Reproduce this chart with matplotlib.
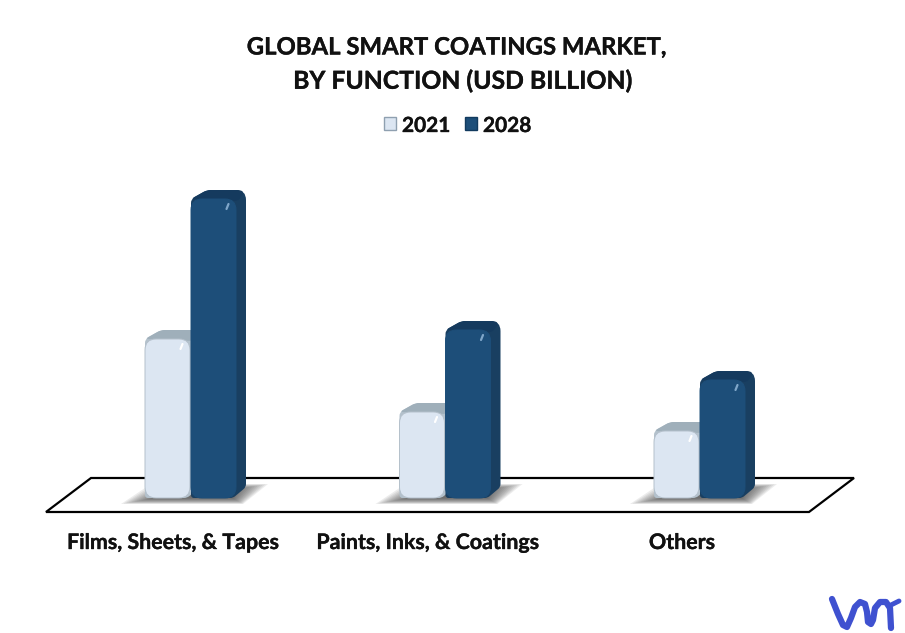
#!/usr/bin/env python3
"""Global smart coatings market by function, drawn as pseudo-3D bars."""

import matplotlib
matplotlib.use('Agg')
import matplotlib.patheffects as pe
import matplotlib.pyplot as plt
from matplotlib.patches import PathPatch, Polygon
from matplotlib.path import Path

plt.rcParams['font.family'] = ['Lato', 'DejaVu Sans']

# bar heights (no axis in the original, so relative units)
categories = ['Films, Sheets, & Tapes', 'Paints, Inks, & Coatings', 'Others']
years = ['2021', '2028']
values_2021 = [1.59, 0.86, 0.67]
values_2028 = [2.99, 1.68, 1.18]
title_lines = ['GLOBAL SMART COATINGS MARKET,', 'BY FUNCTION (USD BILLION)']

# layout, all in pixels of the 905x633 image
W, H = 905, 633
BASE = 498          # pixel row of the value 0
SCALE = 100         # pixels per value unit
GROUP_X = [145, 399.5, 654]
BAR_W = 45
GAP = 1
DEPTH_X = 10
DEPTH_Y = 9

LIGHT = {'front': '#dce6f2', 'top': '#9fafba', 'side': '#b3c1cc', 'edge': '#b4c0cb', 'spot': '#ffffff'}
DARK = {'front': '#1d4e79', 'top': '#153a5e', 'side': '#193f61', 'edge': '#1d4e79', 'spot': '#7fa6c9'}
BOLD = [pe.withStroke(linewidth=0.25, foreground='#111111')]


def py(row):
    """Pixel row to data y."""
    return (BASE - row) / SCALE


def rounded_path(points, radii):
    """Closed path through points with each corner rounded by its radius."""
    verts, codes = [], []
    n = len(points)
    for i in range(n):
        x0, y0 = points[i - 1]
        x1, y1 = points[i]
        x2, y2 = points[(i + 1) % n]
        la = ((x0 - x1) ** 2 + ((y0 - y1) * SCALE) ** 2) ** 0.5
        lb = ((x2 - x1) ** 2 + ((y2 - y1) * SCALE) ** 2) ** 0.5
        r = radii[i]
        ta = min(r / la, 0.5) if la else 0
        tb = min(r / lb, 0.5) if lb else 0
        start = (x1 + (x0 - x1) * ta, y1 + (y0 - y1) * ta)
        end = (x1 + (x2 - x1) * tb, y1 + (y2 - y1) * tb)
        verts.append(start)
        codes.append(Path.MOVETO if i == 0 else Path.LINETO)
        verts += [(x1, y1), end]
        codes += [Path.CURVE3, Path.CURVE3]
    verts.append(verts[0])
    codes.append(Path.CLOSEPOLY)
    return Path(verts, codes)


def draw_bar(ax, x, value, colors, z):
    top = value
    dy = DEPTH_Y / SCALE
    right = x + BAR_W

    # silhouette of side and top faces
    outline = [(x, top), (x + DEPTH_X + 6, top + dy), (right + DEPTH_X, top + dy),
               (right + DEPTH_X, 11 / SCALE), (right - 3, 0), (x, 0)]
    ax.add_patch(PathPatch(rounded_path(outline, [4, 4, 10, 3, 3, 3]),
                           fc=colors['side'], ec='none', zorder=z))
    top_face = [(x, top), (x + DEPTH_X + 6, top + dy), (right + DEPTH_X, top + dy),
                (right + 2, top - 2 / SCALE)]
    ax.add_patch(PathPatch(rounded_path(top_face, [4, 4, 10, 3]),
                           fc=colors['top'], ec='none', zorder=z + 0.1))

    # front face, rounded all round
    front = [(x, top), (right, top), (right, 0), (x, 0)]
    ax.add_patch(PathPatch(rounded_path(front, [11, 11, 11, 11]),
                           fc=colors['front'], ec=colors['edge'], lw=0.7, zorder=z + 0.2))

    # small slanted glint near the top right corner
    ax.plot([right - 9.5, right - 7.5], [top - 10 / SCALE, top - 5 / SCALE], color=colors['spot'],
            lw=1.6, solid_capstyle='round', zorder=z + 0.3)


def draw_shadow(ax, x):
    """Soft grey floor shadow made of stacked translucent shapes."""
    y_low, y_high = py(504), py(484)
    for i in range(14):
        inset = i * 2.6
        trim = i * 0.45 / SCALE
        points = [(x - 24 + inset, y_low + trim), (x + 98 - inset * 0.3, y_low + trim),
                  (x + 123 - inset, y_high - trim), (x + 6 + inset, y_high - trim)]
        ax.add_patch(Polygon(points, fc='#4a4a4a', ec='none', alpha=0.1, zorder=2))


fig = plt.figure(figsize=(W / 100, H / 100), dpi=100)
ax = fig.add_axes([0, 0, 1, 1])
ax.set_xlim(0, W)
ax.set_ylim(py(H), py(0))
ax.axis('off')

# floor
floor = [(46, py(512)), (809, py(512)), (854, py(478)), (91, py(478))]
ax.add_patch(Polygon(floor, closed=True, fc='white', ec='black', lw=1.6, zorder=1))

for x, v1, v2, label in zip(GROUP_X, values_2021, values_2028, categories):
    draw_shadow(ax, x)
    draw_bar(ax, x, v1, LIGHT, 3)
    draw_bar(ax, x + BAR_W + GAP, v2, DARK, 4)
    ax.text(x + BAR_W + GAP - 18, py(543), label, ha='center', va='center', fontsize=15.4,
            fontweight='bold', color='#111111', path_effects=BOLD)

# title, the two lines are not quite on the same centre in the original
for row, center, size, line in zip([47, 81], [456, 463], [17.2, 17.8], title_lines):
    ax.text(center, py(row), line, ha='center', va='center', fontsize=size,
            fontweight='bold', color='#111111', path_effects=BOLD)

# legend
for box_x, text_x, year, colors in zip([384, 465], [402, 483], years, [LIGHT, DARK]):
    ax.add_patch(Polygon([(box_x, py(117)), (box_x + 12, py(117)), (box_x + 12, py(130)), (box_x, py(130))],
                         fc=colors['front'], ec='#8fa0b0' if colors is LIGHT else '#123a5e', lw=1, zorder=3))
    ax.text(text_x, py(126), year, ha='left', va='center', fontsize=15,
            fontweight='bold', color='#111111', path_effects=BOLD)

# brand mark, bottom right
logo_x = [832, 838, 843, 847, 851, 855, 860, 865, 867, 868, 871, 873, 875, 880, 886, 890, 891]
logo_y = [599, 614, 625, 627, 618, 607, 602, 604, 612, 622, 624, 620, 608, 602, 602, 608, 628]
ax.plot(logo_x, [py(r) for r in logo_y], color='#3f51d0', lw=4.5, solid_joinstyle='round',
        solid_capstyle='round', zorder=5)
ax.plot([889, 899], [py(606), py(601)], color='#3f51d0', lw=3.5, solid_capstyle='round', zorder=5)

fig.savefig('out.png', dpi=100)
plt.close(fig)
